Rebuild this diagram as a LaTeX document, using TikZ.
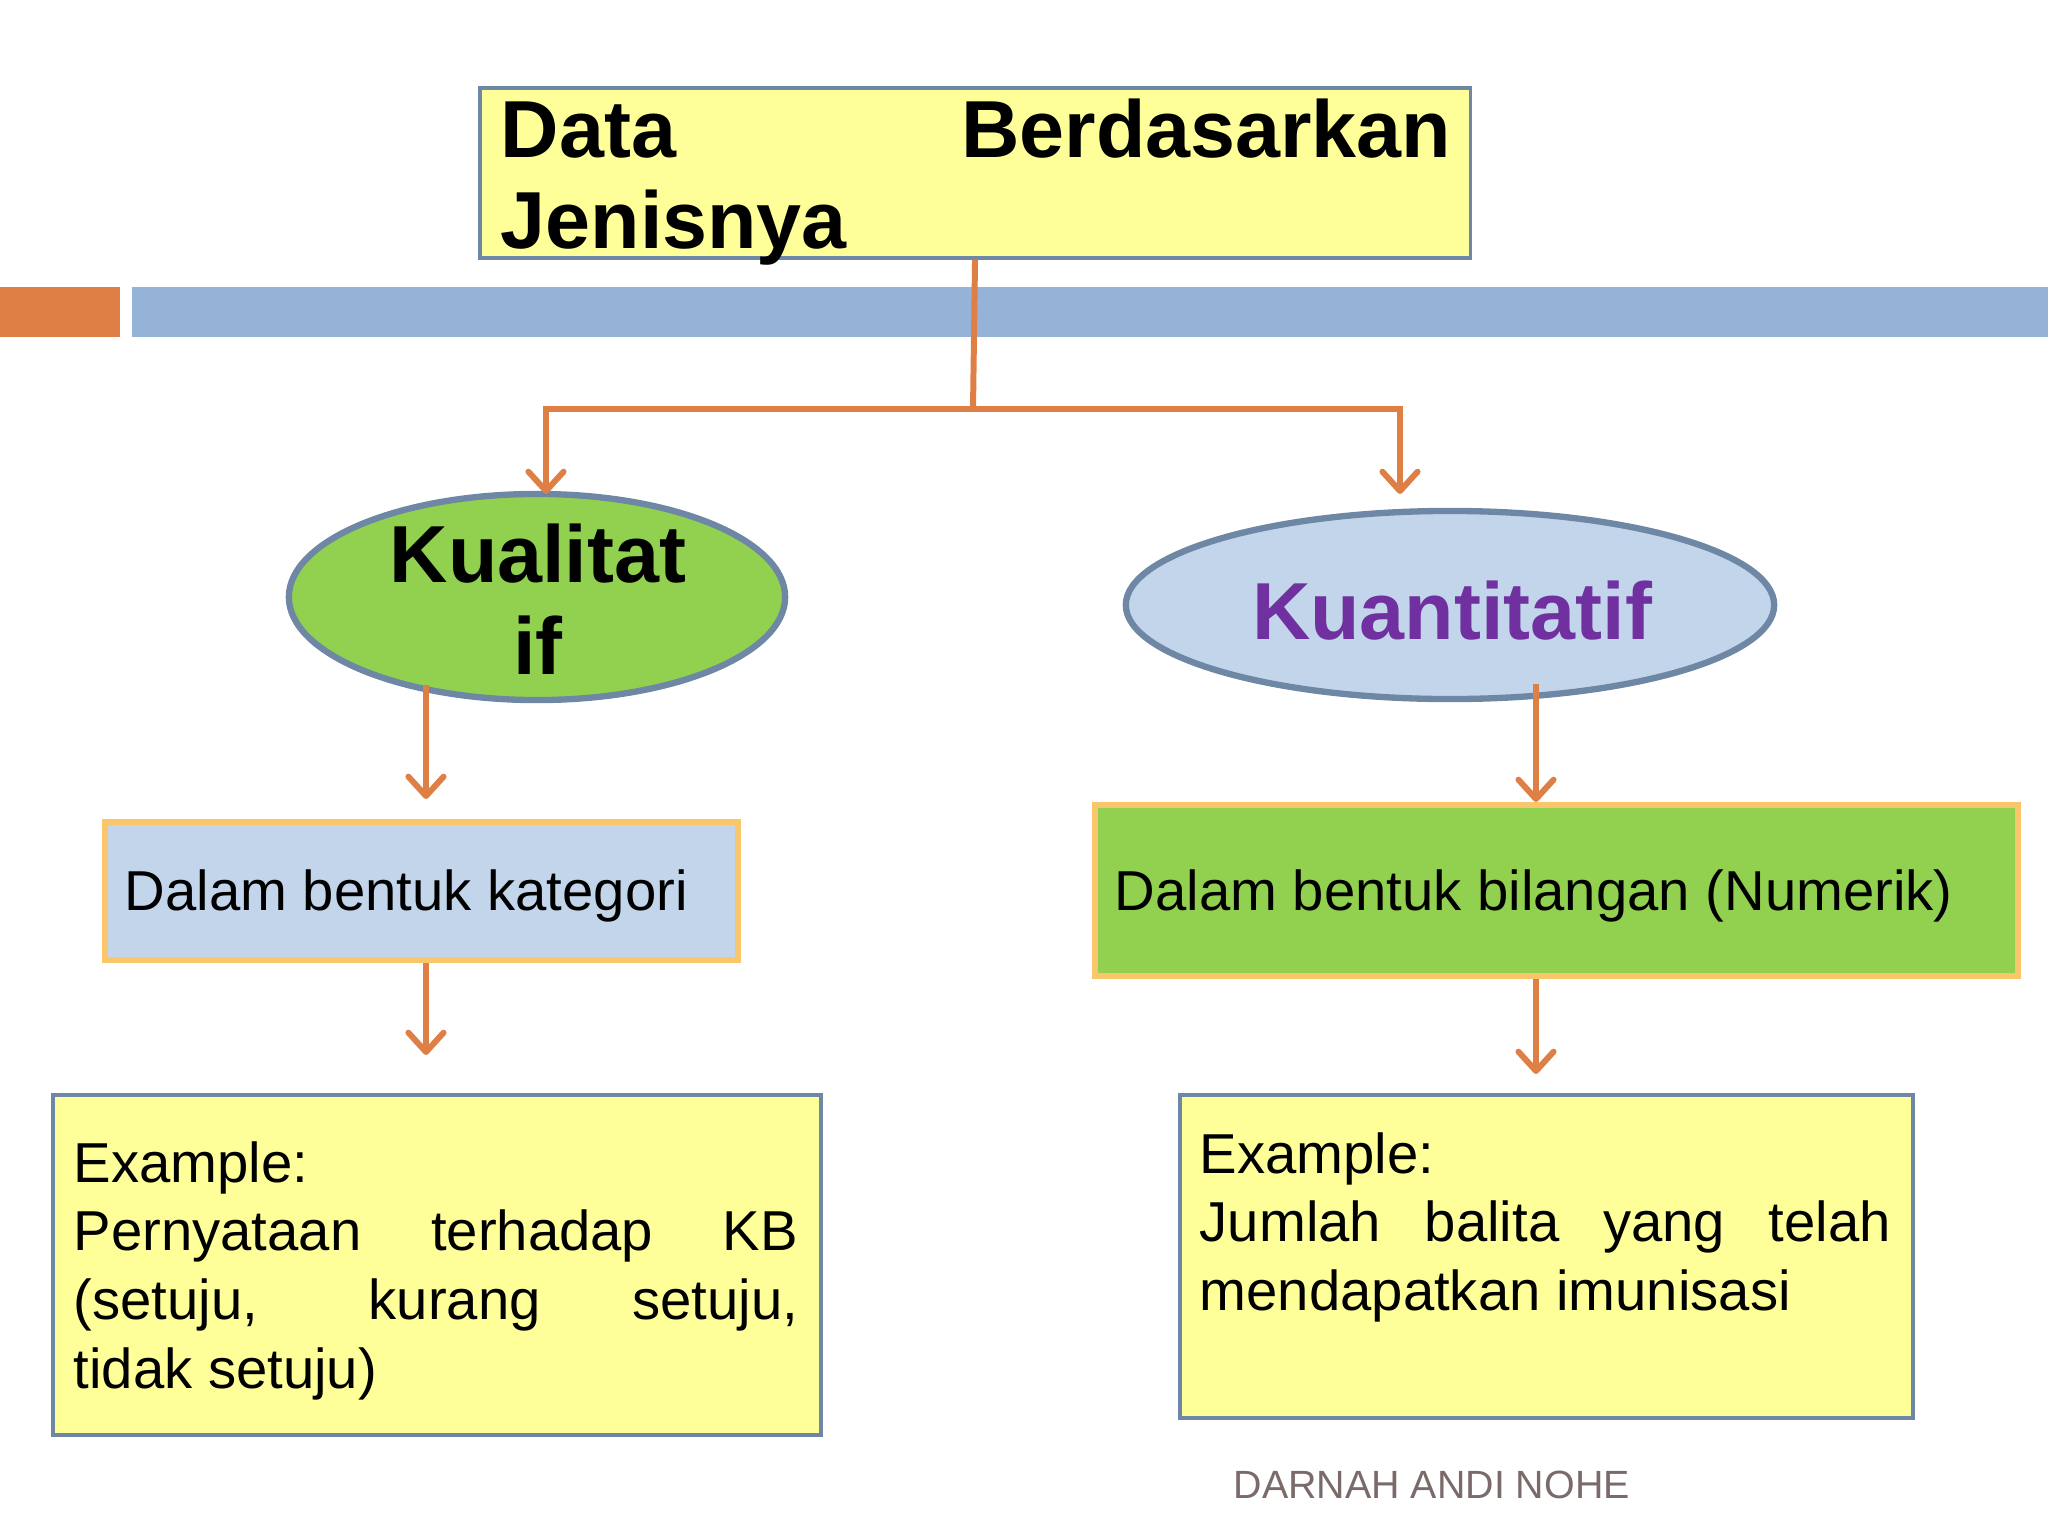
\documentclass[tikz,border=0pt]{standalone}
\usepackage{fontspec}
\setmainfont{Liberation Sans}
\usetikzlibrary{shapes.geometric,arrows.meta}
\definecolor{kuning}{HTML}{FFFF99}
\definecolor{garis}{HTML}{6E87A5}
\definecolor{oranye}{HTML}{DE7F45}
\definecolor{biru}{HTML}{95B3D7}
\definecolor{birumuda}{HTML}{C2D5EA}
\definecolor{hijau}{HTML}{92D050}
\definecolor{emas}{HTML}{F9C66B}
\definecolor{ungu}{HTML}{7030A0}
\definecolor{abu}{HTML}{7B6A6A}
\def\hsatu{\fontsize{23}{26}\selectfont\bfseries}
\def\hdua{\fontsize{16}{19.6}\selectfont}

\begin{document}
\begin{tikzpicture}[x=0.01cm,y=-0.01cm,every node/.style={inner sep=0pt},
  kotak/.style={draw=garis,line width=1pt,fill=kuning,anchor=north west},
  kotakemas/.style={draw=emas,line width=1.7pt,anchor=north west},
  elips/.style={ellipse,draw=garis,line width=1.8pt},
  garisor/.style={draw=oranye,line width=1.7pt},
  panah/.style={garisor,-{Straight Barb[length=5.5pt,width=10pt,line width=1.7pt,round]}}]

\useasboundingbox (0,0) rectangle (2048,1536);
\fill[oranye] (0,287) rectangle (120,337);
\fill[biru] (132,287) rectangle (2048,337);

\node[kotak,minimum width=9.9cm,minimum height=1.7cm] (judulbox) at (478,86) {};
\node[anchor=base west,text width=9.5cm,align=justify,font=\hsatu] (judul) at (500,157)
  {Data Berdasarkan\linebreak Jenisnya};

\node[elips,fill=hijau,minimum width=4.96cm,minimum height=2.06cm] (kual) at (537,597) {};
\node[anchor=base,align=center,font=\hsatu] (kualtxt) at (538,674) {Kualitat\\if};
\node[elips,fill=birumuda,minimum width=6.48cm,minimum height=1.88cm] (kuan) at (1450,605) {};
\node[anchor=base,font=\hsatu,text=ungu] (kuantxt) at (1452,639) {Kuantitatif};

% kiri
\node[kotakemas,fill=birumuda,minimum width=6.33cm,minimum height=1.38cm] (katbox) at (102,819) {};
\node[anchor=base west,font=\hdua] (kattxt) at (124,910) {Dalam bentuk kategori};
\node[kotak,minimum width=7.68cm,minimum height=3.4cm] (contohkiri) at (51,1093) {};
\node[anchor=base west,text width=7.24cm,align=justify,font=\hdua] (contohkiritxt) at (73,1182)
  {Example:\\Pernyataan terhadap KB\linebreak (setuju, kurang setuju,\linebreak tidak setuju)};
% <- end kiri

% kanan
\node[kotakemas,fill=hijau,minimum width=9.22cm,minimum height=1.71cm] (bilbox) at (1092,802) {};
\node[anchor=base west,font=\hdua] (biltxt) at (1114,910) {Dalam bentuk bilangan (Numerik)};
\node[kotak,minimum width=7.33cm,minimum height=3.23cm] (contohkanan) at (1178,1093) {};
\node[anchor=base west,text width=6.91cm,align=justify,font=\hdua] (contohkanantxt) at (1199,1173)
  {Example:\\Jumlah balita yang telah\linebreak mendapatkan imunisasi};
% <- end kanan

\node[anchor=base west,font=\fontsize{11.2}{13}\selectfont,text=abu] (nama) at (1233,1498) {DARNAH ANDI NOHE};

%% panah
\coordinate (cabang) at (973,409);
\coordinate (kualin) at (546,494);
\coordinate (kuanin) at (1400,494);
\coordinate (jalurkiri) at (426,0);
\coordinate (jalurkanan) at (1536,0);
\draw[garisor] (judulbox.south) -- (cabang);
\draw[panah] (cabang) -| (kualin);
\draw[panah] (cabang) -| (kuanin);
\draw[panah,shorten <=-0.18cm,shorten >=0.2cm] (kual.south -| jalurkiri) -- (katbox.north -| jalurkiri);
\draw[panah,shorten >=0.38cm] (katbox.south -| jalurkiri) -- (contohkiri.north -| jalurkiri);
\draw[panah,shorten <=-0.18cm] (kuan.south -| jalurkanan) -- (bilbox.north -| jalurkanan);
\draw[panah,shorten >=0.19cm] (bilbox.south -| jalurkanan) -- (contohkanan.north -| jalurkanan);
\end{tikzpicture}
\end{document}
